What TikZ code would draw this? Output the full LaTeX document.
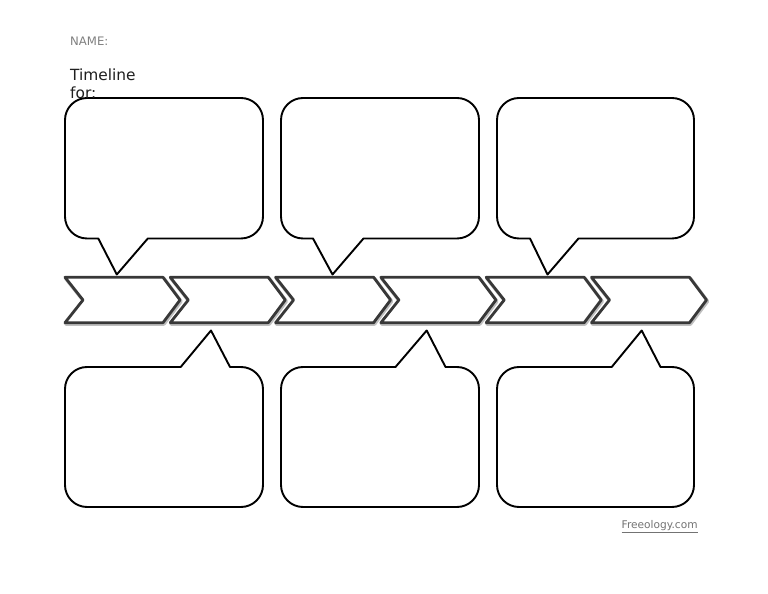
\documentclass[tikz,border=0pt]{standalone}
\usepackage{fontspec}
\setmainfont{DejaVu Sans}
\begin{document}
\begin{tikzpicture}[x=1pt,y=1pt,
  callout/.style={draw=black,line width=1.9pt,fill=white,line join=round},
  chev/.style={draw=black!78,line width=2.8pt,fill=white,line join=round},
  chevshadow/.style={draw=black!25,line width=3.6pt,line join=round},
  lbl/.style={inner sep=0pt,anchor=base west}]
\useasboundingbox (0,0) rectangle (768,594);
\fill[white] (0,0) rectangle (768,594);
\def\r{22}
% top callouts: left x, right x, pointer left, tip, pointer right
\newcommand\mytopcallout[5]{%
  \draw[callout] ({#1+\r},496) -- ({#2-\r},496) arc (90:0:\r) -- (#2,{355.5+\r}) arc (0:-90:\r)
    -- (#5,355.5) -- (#4,319.5) -- (#3,355.5) -- ({#1+\r},355.5) arc (270:180:\r)
    -- (#1,{496-\r}) arc (180:90:\r) -- cycle;}
\newcommand\mybotcallout[5]{%
  \draw[callout] ({#1+\r},227) -- (#3,227) -- (#4,263.5) -- (#5,227) -- ({#2-\r},227) arc (90:0:\r)
    -- (#2,{87+\r}) arc (0:-90:\r) -- ({#1+\r},87) arc (270:180:\r)
    -- (#1,{227-\r}) arc (180:90:\r) -- cycle;}
\mytopcallout{65}{263}{98.3}{116.8}{147.8}
\mytopcallout{281}{479}{313}{332.5}{363.5}
\mytopcallout{497}{694}{530}{547.5}{578.5}
\mybotcallout{65}{263}{180.7}{211}{230}
\mybotcallout{281}{479}{395.5}{426.7}{445.5}
\mybotcallout{497}{694}{611.7}{641.7}{660.5}
% chevrons
\foreach \L in {65,170.3,275.6,380.9,486.2,591.5}{
  \draw[chevshadow,shift={(0.9,-1.3)}] (\L,316.7) -- ({\L+98},316.7) -- ({\L+115},294) -- ({\L+98},271.3) -- (\L,271.3) -- ({\L+18},294) -- cycle;
}
\foreach \L in {65,170.3,275.6,380.9,486.2,591.5}{
  \draw[chev] (\L,316.7) -- ({\L+98},316.7) -- ({\L+115},294) -- ({\L+98},271.3) -- (\L,271.3) -- ({\L+18},294) -- cycle;
}
% texts
\node[lbl,text=black!50,font=\fontsize{11.7}{13}\selectfont] (name) at (70,548.3) {NAME:};
\node[lbl,text=black!88,font=\fontsize{15.4}{17}\selectfont] (tl) at (70,513) {Timeline};
\node[lbl,text=black!88,font=\fontsize{15.4}{17}\selectfont] (for) at (70,495) {for:};
\node[lbl,text=black!55,font=\fontsize{10.6}{12}\selectfont] (fr) at (621.5,65.7) {\underline{Freeology.com}};
\end{tikzpicture}
\end{document}
